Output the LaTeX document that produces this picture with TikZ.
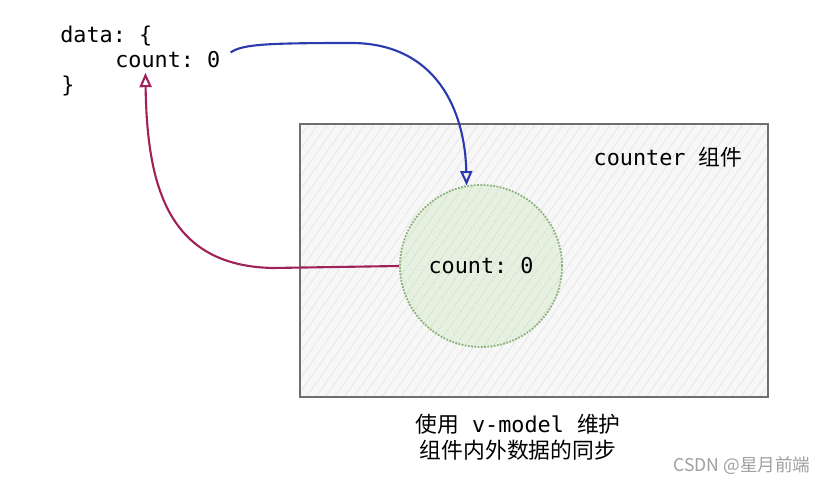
\documentclass[tikz,border=0pt]{standalone}
\usepackage{fontspec}
\setmainfont{Noto Sans CJK SC}
\setmonofont{DejaVu Sans Mono}
\newfontfamily\cjk{Noto Sans CJK SC}
\usepackage{xcolor}
\usetikzlibrary{arrows.meta,patterns.meta,positioning,calc}

\definecolor{linkblue}{HTML}{2B3AAE}
\definecolor{linkred}{HTML}{A02258}
\definecolor{boxgray}{HTML}{6E6E6E}
\definecolor{ringgreen}{HTML}{8DB27C}
\definecolor{ringfill}{HTML}{E6F0E0}

\begin{document}
\begin{tikzpicture}[
  x=0.025cm, y=-0.025cm,
  code/.style={inner sep=0pt, font=\ttfamily\fontsize{15.5}{18}\selectfont},
  comp/.style={draw=boxgray, line width=1.8pt, minimum width=11.7cm, minimum height=6.82cm,
               preaction={fill=gray!6},
               pattern={Lines[angle=55,distance=5.5pt,line width=0.45pt]}, pattern color=gray!22},
  ring/.style={circle, draw=ringgreen, densely dotted, line width=1.3pt, minimum size=4.05cm,
               preaction={fill=ringfill},
               pattern={Lines[angle=55,distance=5.5pt,line width=0.45pt]}, pattern color=ringgreen!45},
  arr/.style={-{Triangle[open, length=3.6mm, width=3mm]}, line width=1.5pt},
  note/.style={align=center, font=\cjk\fontsize{15.5}{18.5}\selectfont}
]
\fill[white] (0,0) rectangle (826,484);
\useasboundingbox (0,0) rectangle (826,484);

% data object
\node[code, anchor=base west] (data) at (60,43) {data: \{};
\node[code, anchor=base west] (cnt) at (115,68) {count: 0};
\node[code, anchor=base west] (close) at (61,93) {\}};

% component
\node[comp] (counter) at (534,260.5) {};
\node[code] (title) at (668,157) {counter {\cjk 组件}};
\node[ring, code] (circ) at (481,266) {count: 0};

\node[note] (caption) at (518,437) {使用{\ttfamily\ v-model\ }维护\\组件内外数据的同步};
\node[font=\cjk\fontsize{12.5}{14}\selectfont, text=gray!75] (mark) at (742,466) {CSDN @星月前端};

% sync arrows
\draw[arr, linkblue, shorten <=9pt] (cnt.east) .. controls (242,44) and (270,43) .. (353,43)
  .. controls (436,44) and (465,110) .. ([xshift=-0.36cm, yshift=-1pt]circ.north);
\draw[arr, linkred, shorten >=3pt] (circ.west) -- (273,268)
  .. controls (170,266) and (147,190) .. ([xshift=-0.56cm]cnt.south);
\end{tikzpicture}
\end{document}
